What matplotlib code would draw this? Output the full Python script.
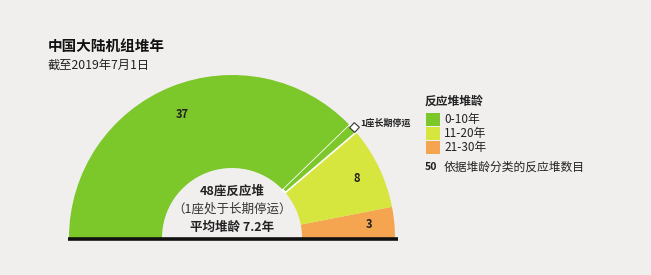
import numpy as np
import matplotlib
matplotlib.use("Agg")
import matplotlib.pyplot as plt
from matplotlib.patches import Rectangle

plt.rcParams["font.family"] = ["Noto Sans CJK SC", "DejaVu Sans"]

# data
groups = ["21-30年", "11-20年", "长期停运", "0-10年"]
counts = [3, 8, 1, 37]
colors = ["#f5a54f", "#d6e63e", "#7cc72a", "#7cc72a"]
legend_labels = ["0-10年", "11-20年", "21-30年"]
legend_colors = ["#7cc72a", "#d6e63e", "#f5a54f"]

BG = "#f1efee"
W, H = 651, 275
fig = plt.figure(figsize=(W / 100, H / 100), dpi=100, facecolor=BG)
ax = fig.add_axes([0, 0, 1, 1])
ax.set_xlim(0, W)
ax.set_ylim(0, H)
ax.set_aspect("equal")
ax.axis("off")
ax.set_facecolor(BG)

cx, cy = 232, H - 238
r_out, r_in = 163, 70
total = sum(counts)

# half donut: add an invisible remainder to fill the lower half
wedges, _ = ax.pie(counts + [total], colors=colors + ["none"], startangle=0,
                   counterclock=True, radius=r_out, center=(cx, cy),
                   wedgeprops=dict(width=r_out - r_in, linewidth=0),
                   frame=True)
ax.set_xlim(0, W)
ax.set_ylim(0, H)
ax.axis("off")
# the shut-down reactor strip gets a white outline
wedges[2].set_edgecolor("white")
wedges[2].set_linewidth(1.2)

# value labels
cum = np.cumsum([0] + counts)
for i, c in enumerate(counts):
    if i == 2:
        continue
    a = np.deg2rad((cum[i] + cum[i + 1]) / 2 / total * 180)
    rr = 133 if i == 3 else 138
    ax.text(cx + rr * np.cos(a), cy + rr * np.sin(a), str(c), ha="center",
            va="center", fontsize=8, fontweight="bold", color="#222222")

# marker and note for the shut-down reactor
a = np.deg2rad((cum[2] + cum[3]) / 2 / total * 180)
mx, my = cx + (r_out + 2) * np.cos(a), cy + (r_out + 2) * np.sin(a)
ax.plot(mx, my, marker=(4, 0, 45 - np.rad2deg(a)), markersize=7,
        markerfacecolor="white", markeredgecolor="#333333", markeredgewidth=0.8)
ax.text(mx + 6, my + 4, "1座长期停运", fontsize=6.5, fontweight="bold",
        ha="left", va="center", color="#222222")

# baseline
ax.plot([68, 398], [cy - 1, cy - 1], color="#111111", linewidth=2.6,
        solid_capstyle="butt")

# centre text
ax.text(cx, H - 191, "48座反应堆", ha="center", va="center", fontsize=9,
        fontweight="bold", color="#222222")
ax.text(cx, H - 209, "（1座处于长期停运）", ha="center", va="center",
        fontsize=9, color="#333333")
ax.text(cx, H - 227, "平均堆龄 7.2年", ha="center", va="center", fontsize=9,
        fontweight="bold", color="#222222")

# title
ax.text(48, H - 46, "中国大陆机组堆年", ha="left", va="center", fontsize=10.5,
        fontweight="bold", color="#111111")
ax.text(48, H - 65, "截至2019年7月1日", ha="left", va="center", fontsize=8.8,
        color="#222222")

# legend
ax.text(425, H - 101, "反应堆堆龄", ha="left", va="center", fontsize=8.5,
        fontweight="bold", color="#222222")
for k, (lab, col) in enumerate(zip(legend_labels, legend_colors)):
    y = H - 119 - k * 14
    ax.add_patch(Rectangle((426, y - 6.5), 14, 13, facecolor=col, edgecolor="none"))
    ax.text(444, y, lab, ha="left", va="center", fontsize=8.5, color="#222222")
ax.text(425, H - 167, "50", ha="left", va="center", fontsize=7.5,
        fontweight="bold", color="#222222")
ax.text(444, H - 167, "依据堆龄分类的反应堆数目", ha="left", va="center",
        fontsize=8.5, color="#222222")

fig.savefig("out.png", dpi=100, facecolor=BG)
